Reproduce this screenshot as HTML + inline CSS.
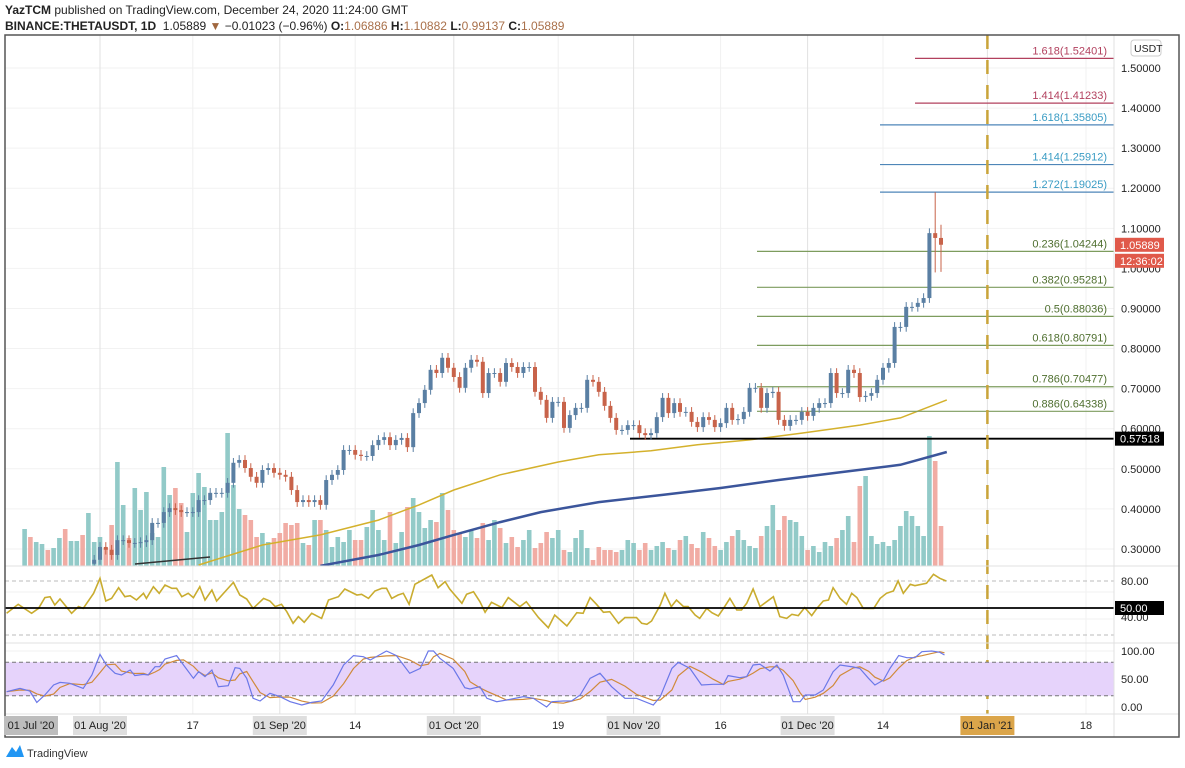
<!DOCTYPE html>
<html><head><meta charset="utf-8">
<style>
html,body{margin:0;padding:0;background:#fff;}
body{width:1185px;height:768px;overflow:hidden;font-family:"Liberation Sans",sans-serif;position:relative;}
.hdr{position:absolute;left:5px;font-size:12px;color:#222;white-space:nowrap;}
.hdr b{font-weight:bold;}
.v{color:#a9704a;}
svg{position:absolute;left:0;top:0;}
</style></head>
<body>
<div class="hdr" style="top:3px"><b>YazTCM</b> published on TradingView.com, December 24, 2020 11:24:00 GMT</div>
<div class="hdr" style="top:19px"><b>BINANCE:THETAUSDT, 1D</b>&nbsp; 1.05889 <span style="color:#a0673e">▼</span> −0.01023 (−0.96%) <b>O:</b><span class="v">1.06886</span> <b>H:</b><span class="v">1.10882</span> <b>L:</b><span class="v">0.99137</span> <b>C:</b><span class="v">1.05889</span></div>
<svg id="chart" width="1185" height="768" xmlns="http://www.w3.org/2000/svg" font-family="Liberation Sans, sans-serif"></svg>
<script>
// ---- data ----
const closes=[0.273,0.305,0.298,0.285,0.322,0.322,0.315,0.315,0.317,0.322,0.365,0.365,0.392,0.402,0.397,0.392,0.392,0.392,0.422,0.422,0.440,0.440,0.440,0.465,0.515,0.522,0.502,0.480,0.465,0.497,0.502,0.490,0.485,0.480,0.447,0.417,0.422,0.417,0.422,0.410,
0.472,0.485,0.497,0.547,0.547,0.535,0.532,0.532,0.559,0.572,0.579,0.559,0.572,0.577,0.554,0.639,0.664,0.697,0.747,0.739,0.777,0.752,0.729,0.702,0.752,0.772,0.767,0.689,0.739,0.739,0.717,0.764,0.754,0.739,0.754,0.754,0.692,0.672,0.627,0.667,0.667,0.602,0.634,0.652,0.652,0.722,0.717,0.692,0.657,0.627,0.597,0.597,0.609,0.609,0.589,0.584,
0.589,0.629,0.677,0.639,0.664,0.642,0.642,0.617,0.604,0.629,0.622,0.604,0.614,0.652,0.622,0.624,0.642,0.702,0.702,0.652,0.689,0.692,0.622,0.607,0.622,0.622,0.642,0.632,0.652,0.664,0.664,0.739,0.689,0.689,0.747,0.739,0.679,0.682,0.689,0.722,0.752,0.764,0.854,0.854,0.904,0.904,0.914,0.926,1.088,1.076,1.059];
const firstCandleDay=-1; // 31 Jul 2020
const spikeHigh=1.19;
const volumes=[37,29,24,22,16,18,28,37,25,25,31,53,24,29,18,41,104,61,28,78,56,74,33,29,99,71,78,63,34,73,93,79,46,46,54,133,81,57,51,46,29,33,24,28,33,43,41,43,23,21,46,
46,36,19,29,24,36,26,26,39,56,36,26,54,23,34,59,68,54,38,46,44,73,56,36,33,29,36,28,43,26,46,38,23,29,19,26,36,18,23,34,28,36,16,14,28,36,18,6,19,16,16,14,16,26,23,16,23,
16,20,24,18,16,26,30,22,18,34,28,20,16,24,30,36,26,20,18,30,40,61,36,50,46,44,30,16,20,14,24,20,28,36,50,24,80,90,30,22,24,20,26,40,55,50,40,30,130,105,40];
const ma50Days=[17,28,38,48,55,61,69,79,86,95,103,112,121,131,138,146];
const ma50Vals=[0.260,0.310,0.335,0.372,0.410,0.447,0.485,0.517,0.535,0.545,0.560,0.572,0.589,0.609,0.627,0.672];
const ma200Days=[38,48,55,61,69,76,86,97,107,117,128,138,146];
const ma200Vals=[0.258,0.285,0.310,0.335,0.367,0.392,0.417,0.435,0.452,0.472,0.492,0.510,0.542];
const rsiDays=[-16.1,-14.1,-11.8,-10.6,-9.5,-8.6,-7.8,-6.9,-4.9,-3.7,-2.9,-1.1,0,1.0,2.0,3.2,4.3,5.2,6.3,7.5,8.0,9.2,10.2,11.2,12.4,13.2,14.1,15.2,16.1,17.2,18.1,19.3,20.1,23.0,24.1,25.3,26.4,28.2,29.3,30.2,31.3,32.2,33.3,34.2,35.2,36.5,38.2,39.4,41.1,42.2,44.3,45.1,46.3,47.4,48.6,49.4,50.3,51.4,52.3,53.3,54.3,57.2,58.3,59.5,60.3,62.4,63.2,64.4,65.5,
66.4,67.5,69.3,70.4,72.4,73.5,75.6,77.3,78.4,80.5,82.2,83.3,84.5,85.6,86.8,87.9,89.4,90.5,92.5,93.4,94.3,95.1,96.6,97.4,98.5,99.4,100.6,101.4,102.6,103.4,104.6,105.5,106.6,107.5,108.6,109.8,110.6,111.5,112.6,113.8,116.1,117.2,118.4,119.3,120.4,121.5,122.7,123.6,124.7,125.6,126.4,127.6,128.7,129.6,130.5,131.6,133.4,134.5,135.6,136.8,137.6,138.5,139.7,140.5,142.5,143.7,144.8,145.9];
const rsiVals=[44.1,54.1,44.1,49.6,61.5,62.6,53.3,60,44.1,51.5,49.6,66.3,83,57.8,60.7,72.6,62.6,63.7,58.9,66.3,60.7,73.7,66.3,75.6,71.9,71.9,62.6,66.3,61.5,73.7,58.9,70,57.8,78.5,64.4,60,49.6,60.7,57.8,51.5,54.1,45.9,33,40.4,34.1,44.1,38.5,58.9,62.6,71.1,64.4,65.2,60.7,68.9,71.9,71.9,60.7,64.4,66.3,54.1,76.3,86.7,72.6,79.3,71.1,55.2,65.2,68.1,57,
45.2,56.3,50.4,61.5,51.5,57,39.3,28.1,42.2,30,44.8,44.1,61.5,54.1,45.2,45.9,33,39.3,39.3,33,31.9,35.6,53.3,66.3,51.5,58.9,51.5,51.5,42.2,38.5,49.6,44.8,41.1,49.6,60.7,47.8,47.8,55.2,71.1,51.5,62.6,40.4,38.5,43,41.5,50.4,41.5,49.6,57.8,58.9,72.6,60.7,54.1,66.3,61.5,49.6,49.6,60.7,66.3,68.9,80,66.3,76.3,74.8,77.4,87.4,83,80];
const stochDays=[-16.1,-13.8,-12.1,-10.9,-9.5,-8.0,-6.9,-5.2,-2.9,-1.4,0,1.1,2.6,3.7,5.2,6.0,7.5,8.3,9.5,10.3,11.2,13.2,14.4,16.1,17.0,18.1,19.3,20.4,22.1,23.3,24.1,25.3,26.4,27.6,29.3,31.0,32.8,34.8,36.5,38.2,40.2,42.0,43.7,45.4,46.6,49.4,51.1,53.4,55.2,56.6,57.5,58.6,60.9,62.9,63.8,65.5,
66.7,68.4,70.1,73.0,74.7,77.0,77.9,79.9,81.3,82.8,84.5,86.2,88.2,90.5,92.5,95.4,96.6,98.6,99.7,101.7,103.7,105.7,107.5,108.3,110.3,111.5,112.6,113.8,115.5,116.7,117.8,119.5,120.7,121.6,123.3,124.7,126.4,127.6,129.9,131.0,132.5,133.6,135.1,136.2,137.7,139.1,140.5,141.7,143.4,144.8,145.6];
const stochK=[27.4,33.3,28.6,8.3,21.4,39.3,44,42.3,33.3,57.1,94,75,60.1,57.1,66.1,56,58.3,57.1,72,72,85.7,91.7,75,51.2,63.1,54.2,66.1,36.3,38.1,70.2,69,51.2,15.5,10.7,24.4,18.5,9.5,3.6,8.3,10.7,39.3,75,91.7,89.9,83.9,100,91.7,60.1,69,100,100,86.9,69,34.5,32.1,36.3,
15.5,9.5,12.5,18.5,15.5,0,9.5,10.7,10.7,21.4,51.2,60.1,36.3,15.5,15.5,3.6,18.5,69,79.8,69,39.3,40.5,40.5,56,52.4,54.2,75,76.2,64.3,75,57.1,9.5,9.5,21.4,21.4,30.4,63.1,75,71.4,69,51.2,39.3,48.2,69,91.7,88.1,88.1,98.8,100,97.6,92.9];
const priceTicks=[1.5,1.4,1.3,1.2,1.1,1.0,0.9,0.8,0.7,0.6,0.5,0.4,0.3];
const fibGreenRatios=["0.236","0.382","0.5","0.618","0.786","0.886"];
const fibGreenVals=[1.04244,0.95281,0.88036,0.80791,0.70477,0.64338];
const fibCyanRatios=["1.272","1.414","1.618"];
const fibCyanVals=[1.19025,1.25912,1.35805];
const fibMagRatios=["1.414","1.618"];
const fibMagVals=[1.41233,1.52401];
const supportVal=0.57518;
const timeLabels=["01 Jul '20","01 Aug '20","17","01 Sep '20","14","01 Oct '20","19","01 Nov '20","16","01 Dec '20","14","01 Jan '21","18"];
const timeDays=[-31,0,16,31,44,61,79,92,107,122,135,153,170];
const timeBoxed=[true,true,false,true,false,true,false,true,false,true,false,true,false];

// ---- axes ----
const NS="http://www.w3.org/2000/svg";
const svg=document.getElementById('chart');
const xD=d=>100+d*5.8;
const yP=p=>68+(1.5-p)*400.8;
const yR=v=>581+(80-v)*0.9;
const yS=v=>707-v*0.56;
const yV=v=>566-v;
function el(tag,attrs,parent){const e=document.createElementNS(NS,tag);for(const k in attrs)e.setAttribute(k,attrs[k]);(parent||svg).appendChild(e);return e;}
function txt(s,attrs,parent){const e=el('text',attrs,parent);e.textContent=s;return e;}

const defs=el('defs',{});
const cp=el('clipPath',{id:'pp'},defs);el('rect',{x:5,y:35,width:1109,height:531},cp);
const cp2=el('clipPath',{id:'pl'},defs);el('rect',{x:5,y:35,width:1109,height:702},cp2);

// grid
const grid=el('g',{});


priceTicks.forEach(p=>el('line',{x1:5,x2:1114,y1:yP(p),y2:yP(p),stroke:'#f2f2f2'},grid));
timeDays.forEach((d,i)=>{const x=xD(d);if(x>5&&x<1114)el('line',{x1:x,x2:x,y1:35,y2:714,stroke:timeBoxed[i]?'#e2e2e2':'#f0f0f0'},grid);});
[592,619,651,679].forEach(y=>el('line',{x1:5,x2:1114,y1:y,y2:y,stroke:'#f2f2f2'},grid));

// volume
const vg=el('g',{'clip-path':'url(#pp)'});


const lastDay=firstCandleDay+closes.length-1;
volumes.forEach((v,i)=>{
  const d=lastDay-(volumes.length-1)+i;
  const ci=d-firstCandleDay;
  let up=true;
  if(ci>0&&ci<closes.length)up=closes[ci]>=closes[ci-1];else if(ci<=0)up=(i%3!==1);
  const r=el('rect',{x:xD(d)-2.3,y:yV(v),width:4.6,height:v,fill:up?'#86c4c2':'#efa39a',opacity:0.9},vg);
  
  
});

function poly(days,vals,fy,attrs,name,parent){const pts=days.map((d,i)=>xD(d).toFixed(1)+','+fy(vals[i]).toFixed(1)).join(' ');const p=el('polyline',Object.assign({points:pts,fill:'none'},attrs),parent);return p;}
const mg=el('g',{'clip-path':'url(#pp)'});
poly(ma50Days,ma50Vals,yP,{stroke:'#d4b12c','stroke-width':1.5},'ma-50-line',mg);
poly(ma200Days,ma200Vals,yP,{stroke:'#3b559b','stroke-width':2.5},'ma-200-line',mg);

function level(val,label,x1,col,tcol,name){
  const y=yP(val);
  const g=el('g',{});
  
  
  el('line',{x1:x1,x2:1114,y1:y,y2:y,stroke:col,'stroke-width':1.2},g);
  txt(label,{x:1107,y:y-4,'text-anchor':'end','font-size':11,fill:tcol},g);
}
fibGreenVals.forEach((v,i)=>level(v,fibGreenRatios[i]+'('+v.toFixed(5)+')',757,'#7d9c5e','#4f6f2f','fib-level-'+fibGreenRatios[i]));
fibCyanVals.forEach((v,i)=>level(v,fibCyanRatios[i]+'('+v.toFixed(5)+')',880,'#4e86b8','#3a9cc4','fib-ext-'+fibCyanRatios[i]));
fibMagVals.forEach((v,i)=>level(v,fibMagRatios[i]+'('+v.toFixed(5)+')',915,'#b2405e','#b2405e','fib-ext-mag-'+fibMagRatios[i]));
const sup=el('line',{x1:630,x2:1114,y1:yP(supportVal),y2:yP(supportVal),stroke:'#000','stroke-width':1.8});


const tl=el('line',{x1:135,x2:210,y1:564,y2:557,stroke:'#333','stroke-width':1.5});



// candles
const cg=el('g',{'clip-path':'url(#pp)'});


closes.forEach((c,i)=>{
  const o=i>0?closes[i-1]:c-0.01;
  const up=c>=o;
  const col=up?'#5a7fa3':'#c8634a';
  const x=xD(firstCandleDay+i);
  let hi=Math.max(o,c)+0.012,lo=Math.min(o,c)-0.012;
  if(i===closes.length-2){hi=spikeHigh;lo=0.99;}
  if(i===closes.length-1){hi=1.10882;lo=0.99137;}
  const g=el('g',{},cg);
  
  
  el('line',{x1:x,x2:x,y1:yP(hi),y2:yP(lo),stroke:col,'stroke-width':1},g);
  const yt=yP(Math.max(o,c)),yb=yP(Math.min(o,c));
  el('rect',{x:x-2,y:yt,width:4,height:Math.max(1,yb-yt),fill:col},g);
});

const nyl=el('line',{x1:xD(153),x2:xD(153),y1:35,y2:714,stroke:'#c9a43a','stroke-width':2.5,'stroke-dasharray':'14,11'});



// RSI pane
[80,20].forEach(v=>el('line',{x1:5,x2:1114,y1:yR(v),y2:yR(v),stroke:'#bbb','stroke-dasharray':'4,3'}));
const rg=el('g',{'clip-path':'url(#pl)'});
poly(rsiDays,rsiVals,yR,{stroke:'#c9ac2f','stroke-width':1.6},'rsi-line',rg);
const fifty=el('line',{x1:5,x2:1114,y1:yR(50),y2:yR(50),stroke:'#000','stroke-width':1.8});



// Stoch pane
const band=el('rect',{x:5,y:yS(80),width:1109,height:yS(20)-yS(80),fill:'#e6d3fb'});


[80,20].forEach(v=>el('line',{x1:5,x2:1114,y1:yS(v),y2:yS(v),stroke:'#777','stroke-dasharray':'4,3'}));
const stochD=stochK.map((v,i)=>{const a=stochK.slice(Math.max(0,i-2),i+1);return a.reduce((s,x)=>s+x,0)/a.length;});
const sg=el('g',{'clip-path':'url(#pl)'});
poly(stochDays,stochD,yS,{stroke:'#d08a3a','stroke-width':1.2},'stoch-d-line',sg);
poly(stochDays,stochK,yS,{stroke:'#6b78e8','stroke-width':1.2},'stoch-k-line',sg);

[566,643,714].forEach(y=>el('line',{x1:5,x2:1179,y1:y,y2:y,stroke:'#e0e0e0'}));
el('line',{x1:1114,x2:1114,y1:35,y2:737,stroke:'#e0e0e0'});
const fr=el('rect',{x:5,y:35,width:1174,height:702,fill:'none',stroke:'#555','stroke-width':1.5});



// price axis
const ax=el('g',{'font-size':11,fill:'#222'});


priceTicks.forEach(p=>txt(p.toFixed(5),{x:1121,y:yP(p)+4},ax));
el('rect',{x:1131,y:40,width:30,height:16,rx:3,fill:'#fff',stroke:'#ccc'},ax);
txt('USDT',{x:1134,y:52,'font-size':10.5},ax);
[[80,'80.00'],[40,'40.00']].forEach(a=>txt(a[1],{x:1121,y:yR(a[0])+4},ax));
[[100,'100.00'],[50,'50.00'],[0,'0.00']].forEach(a=>txt(a[1],{x:1121,y:yS(a[0])+4},ax));
function tag(y,s,bg,name){const g=el('g',{},ax);el('rect',{x:1115,y:y-7,width:49,height:14,fill:bg},g);txt(s,{x:1120,y:y+4,fill:'#fff'},g);}
tag(yP(1.05889),'1.05889','#e0594a','last-price-tag');
tag(yP(1.05889)+16,'12:36:02','#e0594a','countdown-tag');
tag(yP(supportVal),'0.57518','#000','support-price-tag');
tag(yR(50),'50.00','#000','rsi-50-tag');

// time axis
const tg=el('g',{'font-size':11,fill:'#222'});


timeLabels.forEach((s,i)=>{
  let x=xD(timeDays[i]);
  if(x<5)x=31;
  const g=el('g',{},tg);
  
  
  if(timeBoxed[i]){const w=54;el('rect',{x:x-w/2,y:716,width:w,height:19,fill:i===11?'#dba54a':(i===0?'#bdbdbd':'#dedede')},g);}
  txt(s,{x:x,y:729,'text-anchor':'middle'},g);
});

const lg=el('g',{});


el('path',{d:'M6 757 L12 747 L16 752 L20 745 L24 757 Z',fill:'#2196f3'},lg);
txt('TradingView',{x:27,y:757,'font-size':11,fill:'#333'},lg);
</script>
</body></html>
